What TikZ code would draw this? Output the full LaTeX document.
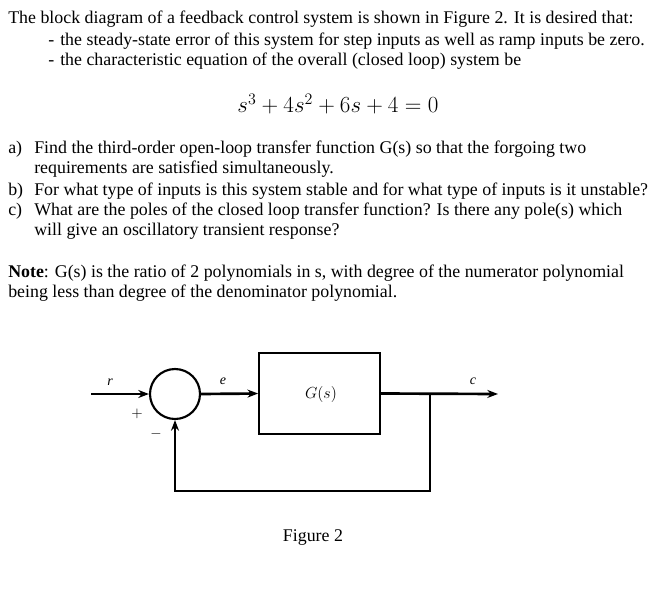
\documentclass[tikz,border=0pt]{standalone}
\usepackage{fontspec}
\setmainfont{Liberation Serif}
\usepackage{amsmath}
\usetikzlibrary{arrows.meta}
\begin{document}
\begin{tikzpicture}[x=0.75pt,y=-0.75pt,
  txt/.style={anchor=base west,inner sep=0,font=\fontsize{13.4}{15}\selectfont},
  lbl/.style={inner sep=0,font=\fontsize{10.5}{12}\selectfont\itshape},
  sig/.style={line width=2pt},
  arr/.style={sig,-{Stealth[length=8pt,width=6pt]}}]
\useasboundingbox (0,0) rectangle (658,607);
\node[txt] (l1) at (8,23) {The block diagram of a feedback control system is shown in Figure 2. It is desired that:};
\node[txt] (d1) at (48,45) {-};
\node[txt] (t1) at (60,45) {the steady-state error of this system for step inputs as well as ramp inputs be zero.};
\node[txt] (d2) at (48,65) {-};
\node[txt] (t2) at (60,65) {the characteristic equation of the overall (closed loop) system be};
\node[inner sep=0,font=\fontsize{17}{19}\selectfont] (eq) at (338,104) {$s^3+4s^2+6s+4=0$};
\node[txt] (a) at (8,153) {a)};
\node[txt] (a1) at (34,153) {Find the third-order open-loop transfer function G(s) so that the forgoing two};
\node[txt] (a2) at (34,173) {requirements are satisfied simultaneously.};
\node[txt] (b) at (8,195) {b)};
\node[txt] (b1) at (34,195) {For what type of inputs is this system stable and for what type of inputs is it unstable?};
\node[txt] (c) at (8,215) {c)};
\node[txt] (c1) at (34,215) {What are the poles of the closed loop transfer function? Is there any pole(s) which};
\node[txt] (c2) at (34,235) {will give an oscillatory transient response?};
\node[txt] (n1) at (8,277) {\textbf{Note}: G(s) is the ratio of 2 polynomials in s, with degree of the numerator polynomial};
\node[txt] (n2) at (8,297) {being less than degree of the denominator polynomial.};
% diagram
\coordinate (in) at (91,394);
\node[draw,circle,line width=1.6pt,minimum size=50*0.75pt,inner sep=0] (sum) at (175,394) {};
\node[draw,line width=1.3pt,minimum width=121*0.75pt,minimum height=81*0.75pt,inner sep=0] (G) at (319.5,393.5) {};
\node[inner sep=0,font=\fontsize{12}{13}\selectfont] (Gl) at (321,394) {$G(s)$};
\coordinate (br) at (430,394);
\coordinate (out) at (498,394);
\coordinate (fb1) at (430,491);
\coordinate (fb2) at (175,491);
\draw[arr] (in) -- (sum.west);
\draw[arr] (sum.east) -- (G.west);
\draw[arr] (G.east) -- (out);
\draw[arr] (br) -- (fb1) -- (fb2) -- (sum.south);
\node[lbl] (r) at (110,382) {r};
\node[lbl] (e) at (223,381) {e};
\node[lbl] (cc) at (473,381) {c};
\node[inner sep=0,font=\fontsize{11}{12}\selectfont] (p) at (137,414) {$+$};
\node[inner sep=0,font=\fontsize{11}{12}\selectfont] (m) at (156,434) {$-$};
\node[inner sep=0,font=\fontsize{13.4}{15}\selectfont] (fig) at (313,538) {Figure 2};
\end{tikzpicture}
\end{document}
